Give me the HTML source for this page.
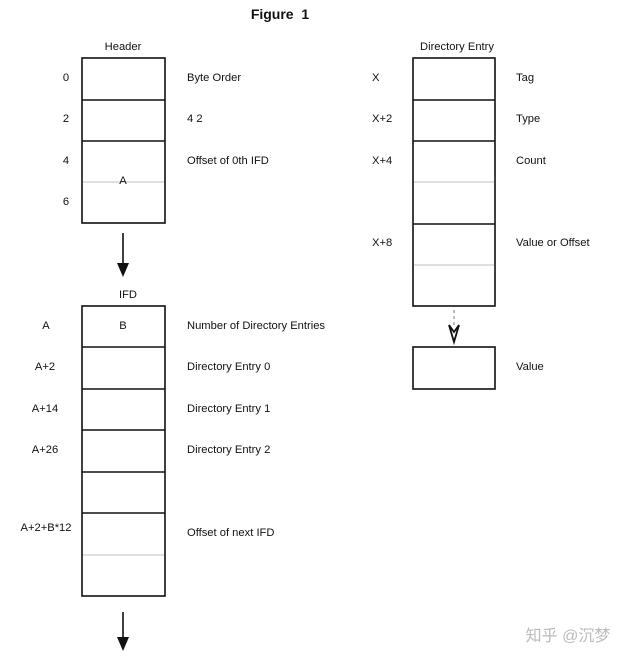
<!DOCTYPE html>
<html><head><meta charset="utf-8"><style>
html,body{margin:0;padding:0;background:#fff;}
svg{display:block;}
text{font-family:"Liberation Sans",Arial,sans-serif;font-size:11.2px;fill:#111;}
</style></head><body>
<svg width="636" height="669" viewBox="0 0 636 669" xmlns="http://www.w3.org/2000/svg">
<text x="280" y="19" text-anchor="middle" style="font-size:14px;font-weight:bold">Figure&#160;&#160;1</text>

<!-- Header -->
<text x="123" y="50" text-anchor="middle">Header</text>
<g stroke="#111" stroke-width="1.6" fill="none">
<rect x="82" y="58" width="83" height="165"/>
<line x1="82" y1="100" x2="165" y2="100"/>
<line x1="82" y1="141" x2="165" y2="141"/>
</g>
<line x1="83" y1="182" x2="164" y2="182" stroke="#ccc" stroke-width="1.2"/>
<text x="66" y="81" text-anchor="middle">0</text>
<text x="66" y="122" text-anchor="middle">2</text>
<text x="66" y="164" text-anchor="middle">4</text>
<text x="66" y="205" text-anchor="middle">6</text>
<text x="123" y="184" text-anchor="middle">A</text>
<text x="187" y="81">Byte Order</text>
<text x="187" y="122">4 2</text>
<text x="187" y="164">Offset of 0th IFD</text>

<line x1="123" y1="233" x2="123" y2="264" stroke="#111" stroke-width="1.6"/>
<polygon points="117,263 129,263 123,277" fill="#111"/>

<!-- IFD -->
<text x="128" y="298" text-anchor="middle">IFD</text>
<g stroke="#111" stroke-width="1.6" fill="none">
<rect x="82" y="306" width="83" height="290"/>
<line x1="82" y1="347" x2="165" y2="347"/>
<line x1="82" y1="389" x2="165" y2="389"/>
<line x1="82" y1="430" x2="165" y2="430"/>
<line x1="82" y1="472" x2="165" y2="472"/>
<line x1="82" y1="513" x2="165" y2="513"/>
</g>
<line x1="83" y1="555" x2="164" y2="555" stroke="#ccc" stroke-width="1.2"/>
<text x="46" y="329" text-anchor="middle">A</text>
<text x="123" y="329" text-anchor="middle">B</text>
<text x="45" y="370" text-anchor="middle">A+2</text>
<text x="45" y="412" text-anchor="middle">A+14</text>
<text x="45" y="453" text-anchor="middle">A+26</text>
<text x="46" y="531" text-anchor="middle">A+2+B*12</text>
<text x="187" y="329">Number of Directory Entries</text>
<text x="187" y="370">Directory Entry 0</text>
<text x="187" y="412">Directory Entry 1</text>
<text x="187" y="453">Directory Entry 2</text>
<text x="187" y="536">Offset of next IFD</text>

<line x1="123" y1="612" x2="123" y2="638" stroke="#111" stroke-width="1.6"/>
<polygon points="117,637 129,637 123,651" fill="#111"/>

<!-- Directory Entry -->
<text x="457" y="50" text-anchor="middle">Directory Entry</text>
<g stroke="#111" stroke-width="1.6" fill="none">
<rect x="413" y="58" width="82" height="248"/>
<line x1="413" y1="100" x2="495" y2="100"/>
<line x1="413" y1="141" x2="495" y2="141"/>
<line x1="413" y1="224" x2="495" y2="224"/>
<rect x="413" y="347" width="82" height="42"/>
</g>
<line x1="414" y1="182" x2="494" y2="182" stroke="#ccc" stroke-width="1.2"/>
<line x1="414" y1="265" x2="494" y2="265" stroke="#ccc" stroke-width="1.2"/>
<text x="372" y="81">X</text>
<text x="372" y="122">X+2</text>
<text x="372" y="164">X+4</text>
<text x="372" y="246">X+8</text>
<text x="516" y="81">Tag</text>
<text x="516" y="122">Type</text>
<text x="516" y="164">Count</text>
<text x="516" y="246">Value or Offset</text>
<text x="516" y="370">Value</text>

<line x1="454" y1="310" x2="454" y2="326" stroke="#777" stroke-width="1" stroke-dasharray="3,3"/>
<polygon points="449,325 454,342 459,325 454,332" fill="#fff" stroke="#111" stroke-width="1.8" stroke-linejoin="miter"/>

<text x="568" y="641" text-anchor="middle" style="font-family:'Liberation Sans','Noto Sans CJK SC',sans-serif;font-size:16px;fill:#bbb">知乎 @沉梦</text>
</svg>
</body></html>
